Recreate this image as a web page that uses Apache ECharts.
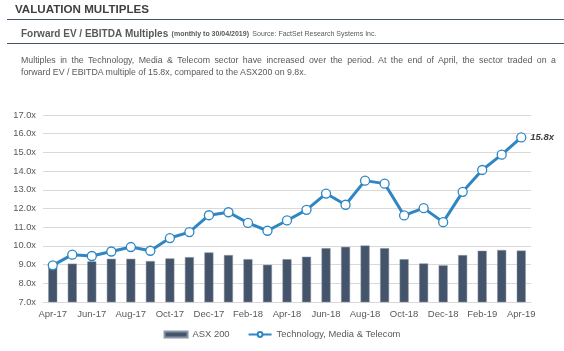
<!DOCTYPE html>
<html>
<head>
<meta charset="utf-8">
<script src="https://cdn.jsdelivr.net/npm/echarts@6/dist/echarts.min.js"></script>
<style>
  html, body { margin: 0; padding: 0; background: #fff; }
  #wrap { position: relative; width: 564px; height: 351px; }
  #chart { width: 564px; height: 351px; }
  .para { position: absolute; left: 21px; width: 535px; font: 8.8px 'Liberation Sans', Arial, sans-serif; color: #595959; white-space: nowrap; }
  .just { text-align: justify; text-align-last: justify; }
</style>
</head>
<body>
<div id="wrap">
  <div id="chart"></div>
  <div class="para just" style="top:55px">Multiples in the Technology, Media &amp; Telecom sector have increased over the period. At the end of April, the sector traded on a</div>
  <div class="para" style="top:67px">forward EV / EBITDA multiple of 15.8x, compared to the ASX200 on 9.8x.</div>
</div>
<script>
const months = ['Apr-17', 'May-17', 'Jun-17', 'Jul-17', 'Aug-17', 'Sep-17', 'Oct-17', 'Nov-17', 'Dec-17',
  'Jan-18', 'Feb-18', 'Mar-18', 'Apr-18', 'May-18', 'Jun-18', 'Jul-18', 'Aug-18', 'Sep-18', 'Oct-18',
  'Nov-18', 'Dec-18', 'Jan-19', 'Feb-19', 'Mar-19', 'Apr-19']
const asx200 = [8.85, 9.05, 9.17, 9.31, 9.31, 9.19, 9.33, 9.4, 9.65, 9.51, 9.29, 8.99, 9.29,
  9.42, 9.88, 9.95, 10.02, 9.88, 9.29, 9.06, 8.96, 9.51, 9.74, 9.78, 9.75]
const tmt = [8.96, 9.53, 9.46, 9.7, 9.94, 9.74, 10.42, 10.74, 11.64, 11.8, 11.23, 10.81, 11.36,
  11.93, 12.8, 12.2, 13.49, 13.33, 11.63, 12.02, 11.27, 12.89, 14.06, 14.88, 15.8]

const dark = '#44546a'
const blue = '#2e87c4'
const grey = '#595959'

const chart = echarts.init(document.getElementById('chart'))

chart.setOption({
  animation: false,
  textStyle: { fontFamily: 'Liberation Sans, Arial, sans-serif' },
  graphic: [
    { type: 'text', left: 15, top: 4, style: { text: 'VALUATION MULTIPLES', font: 'bold 11.6px Liberation Sans', fill: '#404040' } },
    { type: 'line', shape: { x1: 7, y1: 19.5, x2: 564, y2: 19.5 }, style: { stroke: dark, lineWidth: 1.2 } },
    { type: 'text', left: 21, top: 28, style: {
      rich: {
        a: { font: 'bold 10px Liberation Sans', fill: '#595959' },
        b: { font: 'bold 7px Liberation Sans', fill: '#595959' },
        c: { font: '7px Liberation Sans', fill: '#595959' }
      },
      text: '{a|Forward EV / EBITDA Multiples} {b|(monthly to 30/04/2019)} {c|Source: FactSet Research Systems Inc.}'
    } },
    { type: 'line', shape: { x1: 7, y1: 43.5, x2: 564, y2: 43.5 }, style: { stroke: dark, lineWidth: 1.2 } }
  ],
  grid: { left: 43, right: 33, top: 115, bottom: 49 },
  legend: {
    bottom: 7,
    left: 'center',
    itemGap: 18,
    itemWidth: 23,
    itemHeight: 6,
    textStyle: { color: grey, fontSize: 9.4 },
    data: [
      { name: 'ASX 200', icon: 'rect' },
      { name: 'Technology, Media & Telecom' }
    ]
  },
  xAxis: {
    type: 'category',
    data: months,
    axisTick: { show: false },
    axisLine: { lineStyle: { color: '#d9d9d9' } },
    axisLabel: { interval: 1, color: grey, fontSize: 9.5, margin: 7 }
  },
  yAxis: {
    type: 'value',
    min: 7,
    max: 17,
    interval: 1,
    axisLabel: { color: grey, fontSize: 9.3, margin: 7, formatter: v => v.toFixed(1) + 'x' },
    splitLine: { lineStyle: { color: '#d9d9d9' } }
  },
  series: [
    {
      name: 'ASX 200',
      type: 'bar',
      data: asx200,
      barWidth: 9,
      itemStyle: { color: dark, borderColor: '#8a95a5', borderWidth: 0.5 }
    },
    {
      name: 'Technology, Media & Telecom',
      type: 'line',
      data: tmt,
      symbol: 'circle',
      symbolSize: 9,
      lineStyle: { color: blue, width: 3 },
      itemStyle: { color: '#fff', borderColor: blue, borderWidth: 1.3 },
      endLabel: {
        show: true,
        formatter: p => p.value.toFixed(1) + 'x',
        color: '#404040',
        fontSize: 9.5,
        fontWeight: 'bold',
        fontStyle: 'italic',
        distance: 9
      }
    }
  ]
})
</script>
</body>
</html>
